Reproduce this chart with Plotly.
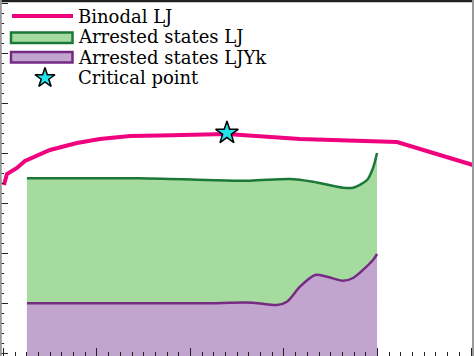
import plotly.graph_objects as go

W, H = 474, 356

# ---- data (x: density-like units, y: temperature-like units) ----
binodal_x = [0.005, 0.016, 0.037, 0.144, 0.230, 0.497, 0.786, 1.032, 1.353, 1.674, 2.390, 3.171, 4.209, 5.021]
binodal_y = [4.36, 4.46, 4.58, 4.70, 4.84, 5.06, 5.20, 5.28, 5.34, 5.35, 5.38, 5.28, 5.22, 4.76]

arrest_lj_x = [0.251, 1.460, 2.176, 2.636, 3.064, 3.310, 3.631, 3.738, 3.888, 3.952, 3.995]
arrest_lj_y = [4.494, 4.494, 4.46, 4.446, 4.48, 4.426, 4.306, 4.306, 4.46, 4.70, 5.00]

arrest_ljyk_x = [0.251, 2.102, 2.668, 2.925, 3.032, 3.171, 3.332, 3.460, 3.631, 3.738, 3.952, 3.995]
arrest_ljyk_y = [1.994, 1.994, 2.006, 1.96, 2.026, 2.326, 2.56, 2.526, 2.446, 2.50, 2.86, 2.98]

critical_x = [2.39]
critical_y = [5.40]

labels = ["Binodal LJ", "Arrested states LJ", "Arrested states LJYk", "Critical point"]

PINK = "#f0027f"
G_FILL, G_LINE = "#a6dba0", "#1b7837"
P_FILL, P_LINE = "#c2a5cf", "#762a83"
STAR = "#22e5ec"

fig = go.Figure()
fig.add_trace(go.Scatter(x=arrest_lj_x, y=arrest_lj_y, mode="lines", fill="tozeroy",
                         fillcolor=G_FILL, line=dict(color=G_LINE, width=2.5, shape="spline", smoothing=0.8),
                         name=labels[1], showlegend=False))
fig.add_trace(go.Scatter(x=arrest_ljyk_x, y=arrest_ljyk_y, mode="lines", fill="tozeroy",
                         fillcolor=P_FILL, line=dict(color=P_LINE, width=2.5, shape="spline", smoothing=0.8),
                         name=labels[2], showlegend=False))
fig.add_trace(go.Scatter(x=binodal_x, y=binodal_y, mode="lines",
                         line=dict(color=PINK, width=4), name=labels[0], showlegend=False))
fig.add_trace(go.Scatter(x=critical_x, y=critical_y, mode="markers",
                         marker=dict(symbol="star", size=17, color=STAR, line=dict(color="black", width=1.5)),
                         name=labels[3], showlegend=False))

# ---- manual legend (pixel positions -> paper) ----
def px(x):
    return x / W

def py(y):
    return 1 - y / H

shapes = [
    dict(type="line", xref="paper", yref="paper", x0=px(12), x1=px(73), y0=py(16), y1=py(16),
         line=dict(color=PINK, width=4)),
    dict(type="rect", xref="paper", yref="paper", x0=px(11), x1=px(72.5), y0=py(32.5), y1=py(43),
         fillcolor=G_FILL, line=dict(color=G_LINE, width=2.5)),
    dict(type="rect", xref="paper", yref="paper", x0=px(11), x1=px(72.5), y0=py(52), y1=py(62.5),
         fillcolor=P_FILL, line=dict(color=P_LINE, width=2.5)),
    # frame
    dict(type="line", xref="paper", yref="paper", x0=0, x1=1, y0=py(1), y1=py(1),
         line=dict(color="#222222", width=2.5)),
    dict(type="line", xref="paper", yref="paper", x0=px(0.8), x1=px(0.8), y0=0, y1=1,
         line=dict(color="#9a9a9a", width=2)),
    dict(type="line", xref="paper", yref="paper", x0=px(473), x1=px(473), y0=0, y1=1,
         line=dict(color="#9a9a9a", width=2)),
]

annotations = []
for lab, yy in zip(labels, [16, 37, 57, 77]):
    annotations.append(dict(xref="paper", yref="paper", x=px(75.5), y=py(yy), text=lab,
                            showarrow=False, xanchor="left", yanchor="middle",
                            font=dict(family="DejaVu Serif", size=18, color="black")))

# legend star, placed with a pixel-space overlay axis
fig.add_trace(go.Scatter(x=[45], y=[78], mode="markers", xaxis="x2", yaxis="y2",
                         marker=dict(symbol="star", size=15, color=STAR, line=dict(color="black", width=1.5)),
                         showlegend=False, hoverinfo="skip"))

fig.update_layout(
    width=W, height=H, margin=dict(l=0, r=0, t=0, b=0),
    paper_bgcolor="white", plot_bgcolor="white", showlegend=False,
    shapes=shapes, annotations=annotations,
    xaxis=dict(range=[-0.037, 5.032], showgrid=False, zeroline=False, showticklabels=False,
               ticks="inside", ticklen=8, tickcolor="#222", tick0=1, dtick=1,
               minor=dict(ticks="inside", ticklen=4, dtick=0.125, tickcolor="#222", showgrid=False)),
    yaxis=dict(range=[0.94, 8.06], showgrid=False, zeroline=False, showticklabels=False,
               ticks="inside", ticklen=8, tickcolor="#222", tick0=1, dtick=1,
               minor=dict(ticks="inside", ticklen=4, dtick=0.2, tickcolor="#222", showgrid=False)),
    xaxis2=dict(range=[0, W], overlaying="x", visible=False),
    yaxis2=dict(range=[H, 0], overlaying="y", visible=False),
)

fig.write_html("out.html", config={"displayModeBar": False},
               post_script="document.body.style.margin='0';document.body.style.overflow='hidden';")
